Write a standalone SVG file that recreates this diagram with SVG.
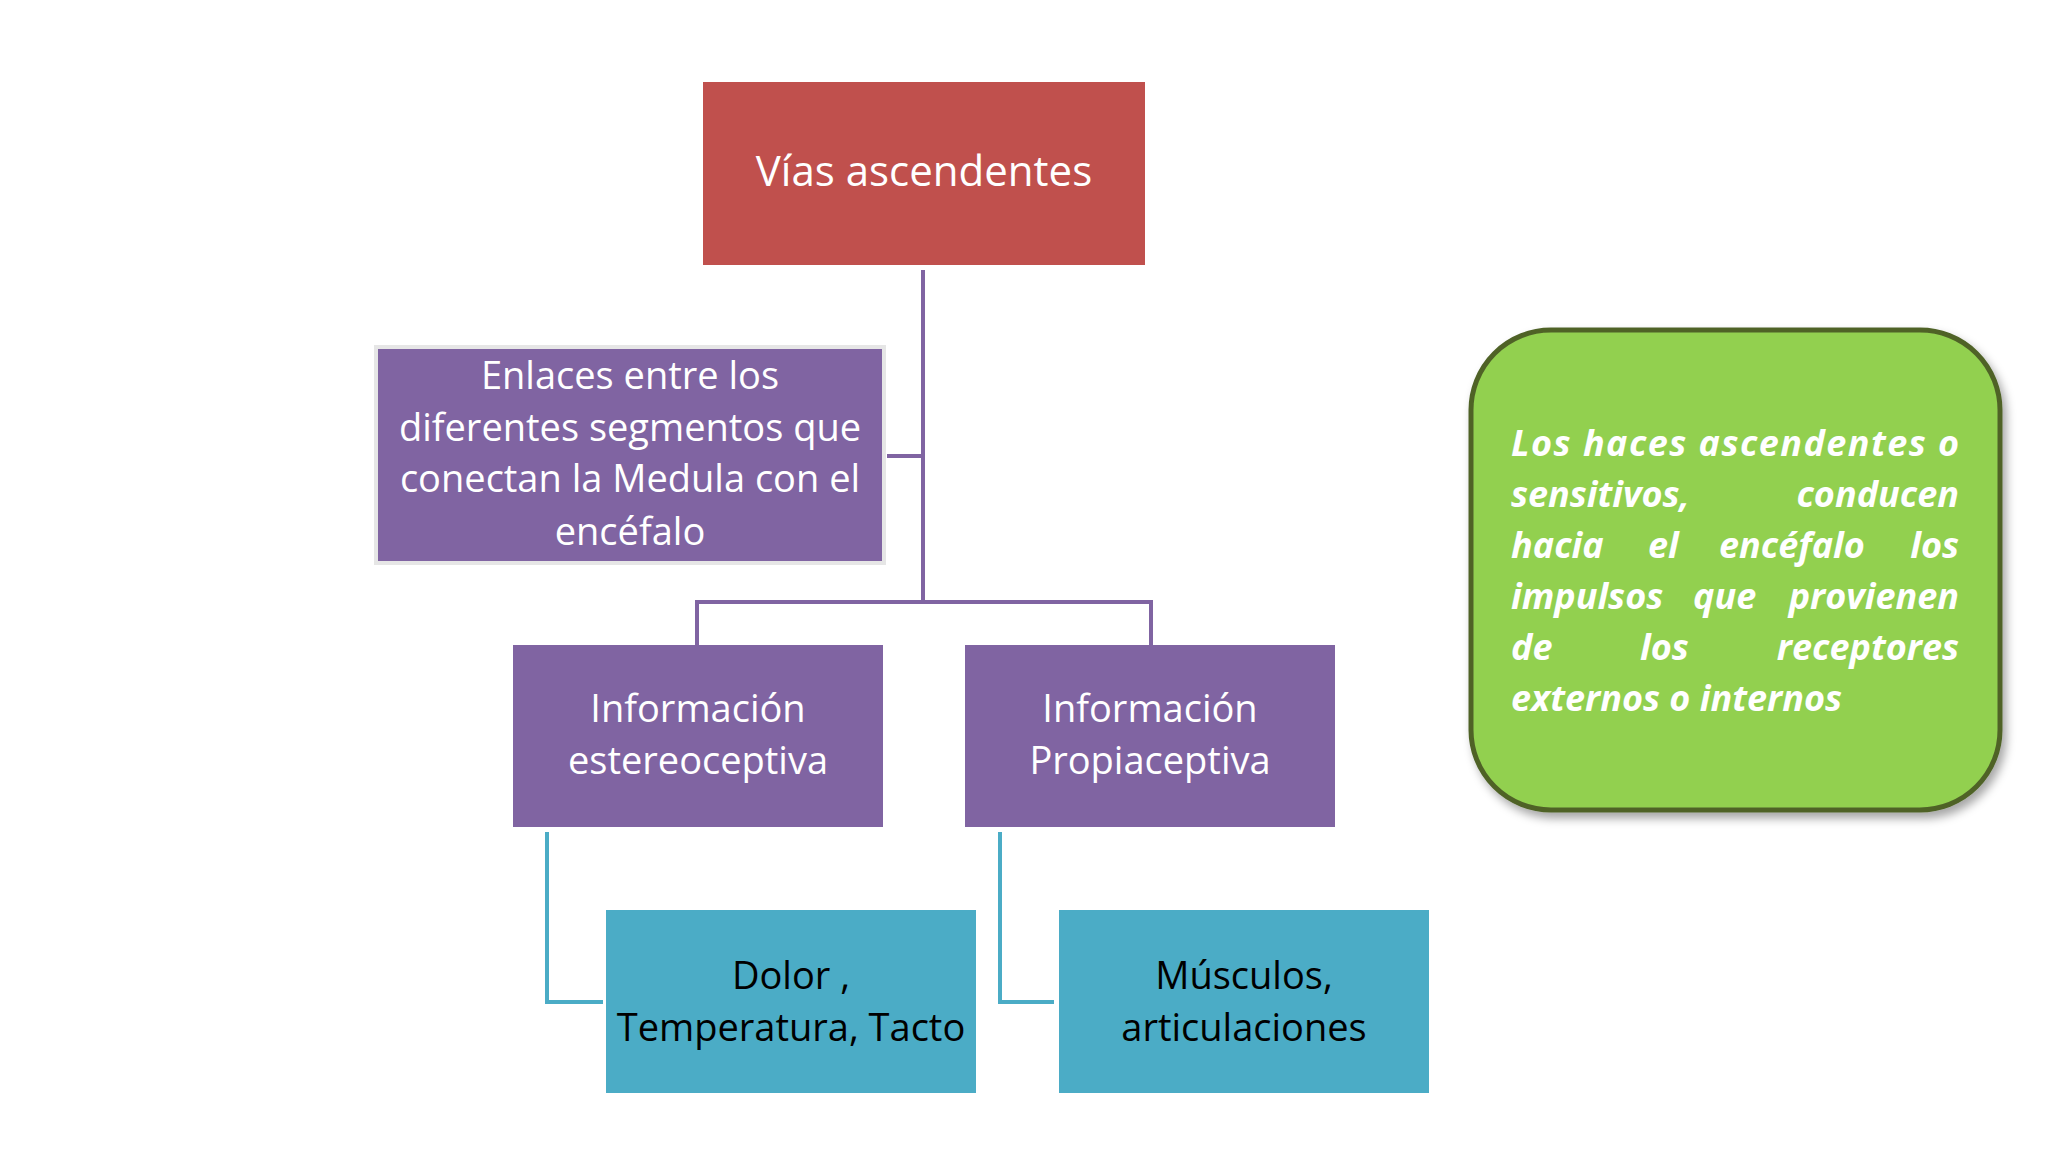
<svg xmlns="http://www.w3.org/2000/svg" width="2048" height="1152" viewBox="0 0 2048 1152">
<defs>
<style>
.t{font-family:"Open Sans","Liberation Sans",sans-serif;fill:#fff;text-anchor:middle}
.d{font-family:"Open Sans","Liberation Sans",sans-serif;fill:#000;text-anchor:middle}
.g{font-family:"Open Sans","Liberation Sans",sans-serif;fill:#fff;font-style:italic;font-weight:bold;font-size:36px}
.pl{fill:none;stroke:#8064a2;stroke-width:4}
.bl{fill:none;stroke:#4bacc6;stroke-width:4}
</style>
<filter id="sh" x="-10%" y="-10%" width="130%" height="130%"><feDropShadow dx="4" dy="6" stdDeviation="5" flood-color="#000" flood-opacity="0.35"/></filter>
</defs>
<rect width="2048" height="1152" fill="#fff"/>
<g id="connectors">
<path class="pl" d="M923 270V602M887 456H923M697 645V602H1151V645"/>
<path class="bl" d="M547 832V1002H603M1000 832V1002H1054"/>
</g>
<g id="vias"><rect x="703" y="82" width="442" height="183" fill="#c0504d"/><text class="t" x="924" y="186" font-size="42">Vías ascendentes</text></g>
<g id="enlaces"><rect x="376" y="347" width="508" height="216" fill="#8064a2" stroke="#e6e6e6" stroke-width="4"/>
<text class="t" font-size="38"><tspan x="630" y="389">Enlaces entre los</tspan><tspan x="630" y="441">diferentes segmentos  que</tspan><tspan x="630" y="492">conectan la Medula con el</tspan><tspan x="630" y="545">encéfalo</tspan></text></g>
<g id="estereo"><rect x="513" y="645" width="370" height="182" fill="#8064a2"/><text class="t" font-size="38"><tspan x="698" y="722">Información</tspan><tspan x="698" y="774">estereoceptiva</tspan></text></g>
<g id="propia"><rect x="965" y="645" width="370" height="182" fill="#8064a2"/><text class="t" font-size="38"><tspan x="1150" y="722">Información</tspan><tspan x="1150" y="774">Propiaceptiva</tspan></text></g>
<g id="dolor"><rect x="606" y="910" width="370" height="183" fill="#4bacc6"/><text class="d" font-size="38"><tspan x="791" y="989">Dolor ,</tspan><tspan x="791" y="1041">Temperatura, Tacto</tspan></text></g>
<g id="musculos"><rect x="1059" y="910" width="370" height="183" fill="#4bacc6"/><text class="d" font-size="38"><tspan x="1244" y="989">Músculos,</tspan><tspan x="1244" y="1041">articulaciones</tspan></text></g>
<g id="nota"><rect x="1471" y="330" width="529" height="480" rx="80" fill="#92d050" stroke="#4f6228" stroke-width="5" filter="url(#sh)"/>
<text class="g" x="1511" y="456" textLength="448" lengthAdjust="spacing">Los haces ascendentes o</text>
<text class="g" x="1511" y="507">sensitivos,</text><text class="g" x="1959" y="507" text-anchor="end">conducen</text>
<text class="g" x="1511" y="558">hacia</text><text class="g" x="1648" y="558">el</text><text class="g" x="1719" y="558">encéfalo</text><text class="g" x="1959" y="558" text-anchor="end">los</text>
<text class="g" x="1511" y="609">impulsos</text><text class="g" x="1693" y="609">que</text><text class="g" x="1959" y="609" text-anchor="end">provienen</text>
<text class="g" x="1511" y="660">de</text><text class="g" x="1640" y="660">los</text><text class="g" x="1959" y="660" text-anchor="end">receptores</text>
<text class="g" x="1511" y="711">externos o internos</text></g>
</svg>
